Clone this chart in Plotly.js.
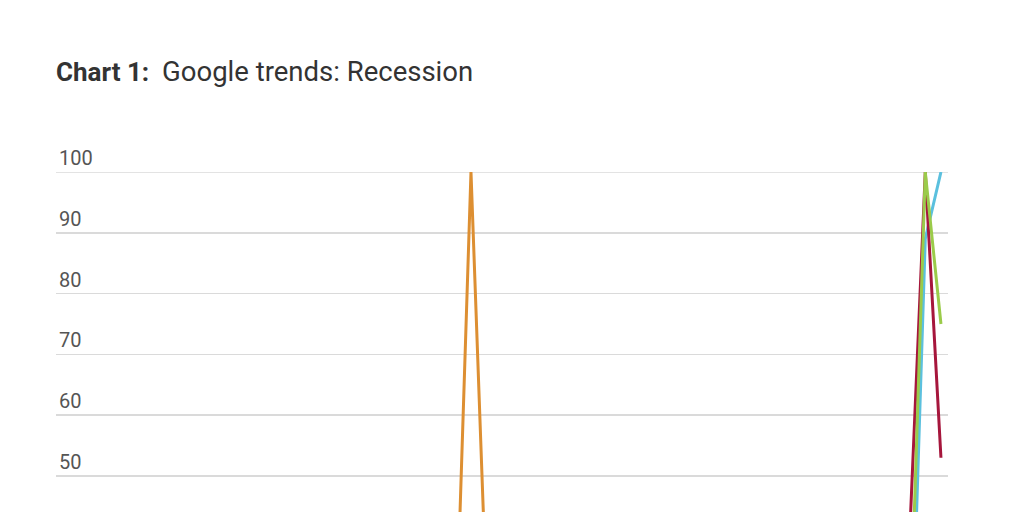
<!DOCTYPE html>
<html>
<head>
<meta charset="utf-8">
<script src="https://cdn.plot.ly/plotly-3.0.1.min.js"></script>
<style>
  html, body { margin: 0; padding: 0; background: #fff; }
  #chart { width: 1024px; height: 830px; }
</style>
</head>
<body>
<div id="chart"></div>
<script>
// Week index (x categories)
const weeks = [1,2,3,4,5,6,7,8,9,10,11,12,13,14,15,16,17,18,19,20,
               21,22,23,24,25,26,27,28,29,30,31,32,33,34,35,36,37,38,39,40,
               41,42,43,44,45,46,47,48,49,50,51,52,53,54,55,56,57];

// Series values (Google trends index, 0-100); values below ~44 are hidden in the reference crop
const seriesOrange = [14,13,15,12,14,16,13,12,15,17,14,13,16,18,15,14,17,19,16,18,
                      20,18,17,19,18,20,100,29,22,19,18,20,17,16,18,19,17,16,18,20,
                      19,18,17,19,21,20,18,19,22,21,20,23,24,26,28,30,32];
const seriesGreen  = [8,9,8,7,9,10,8,9,8,10,9,8,9,10,11,9,10,9,11,10,
                      9,10,11,10,12,11,13,12,11,10,12,11,10,11,12,11,13,12,11,12,
                      13,12,14,13,12,14,13,15,14,16,15,17,18,19,20,100,75];
const seriesRed    = [10,11,10,12,11,10,12,13,11,12,13,12,11,13,12,14,13,12,14,13,
                      12,14,15,13,14,16,15,14,13,15,14,13,15,16,14,15,16,15,17,16,
                      15,17,18,17,19,18,20,21,22,24,26,28,30,33,40,100,53];
const seriesBlue   = [5,4,5,6,5,4,5,6,5,5,4,5,6,5,4,5,6,5,5,6,
                      5,4,5,6,5,6,5,4,5,6,5,5,6,5,4,5,6,5,6,5,
                      6,5,6,7,6,5,6,7,6,7,6,7,7,8,8,89,100];

// Visible y tick labels (lower ones fall below the visible crop)
const yTicks = [50,60,70,80,90];
const yTop = 100;

function line(y, color, name) {
  return {
    x: weeks, y: y, name: name, type: 'scatter', mode: 'lines',
    line: { color: color, width: 3 }, hoverinfo: 'skip'
  };
}

const data = [
  line(seriesOrange, '#dd8f32', 'Series A'),
  line(seriesBlue,   '#5bc0de', 'Series D'),
  line(seriesRed,    '#a6163c', 'Series C'),
  line(seriesGreen,  '#9bcb4a', 'Series B')
];

const tickFont = { family: 'Roboto, sans-serif', size: 20, color: '#555555' };

const layout = {
  width: 1024, height: 830,
  margin: { l: 56, r: 76, t: 172, b: 50 },
  paper_bgcolor: '#ffffff', plot_bgcolor: '#ffffff',
  showlegend: false,
  title: {
    text: '<b>Chart 1:</b>\u00a0 <span style="font-size:27.5px">Google trends: Recession</span>',
    x: 56/1024, xref: 'container', xanchor: 'left',
    y: 1 - 72/830, yref: 'container', yanchor: 'middle',
    font: { family: 'Roboto, sans-serif', size: 26, color: '#333333' }
  },
  xaxis: {
    range: [0.51, 57.45],
    showgrid: false, zeroline: false, showline: false,
    showticklabels: false, ticks: ''
  },
  yaxis: {
    range: [0, yTop],
    tickvals: yTicks,
    ticktext: yTicks.map(String),
    ticklabelposition: 'inside top',
    ticklabelstandoff: 0,
    showgrid: true, gridcolor: '#dadada', gridwidth: 1.5,
    zeroline: false, showline: false, ticks: '',
    tickfont: tickFont
  },
  shapes: [{
    type: 'line', xref: 'paper', yref: 'y', x0: 0, x1: 1, y0: yTop, y1: yTop,
    layer: 'below', line: { color: '#dadada', width: 1.5 }
  }],
  annotations: [{
    text: String(yTop), xref: 'paper', yref: 'y', x: 0, y: yTop,
    xanchor: 'left', yanchor: 'bottom', showarrow: false, xshift: 1, yshift: 0,
    font: tickFont
  }]
};

Plotly.newPlot('chart', data, layout, { staticPlot: true, displayModeBar: false });
</script>
</body>
</html>
